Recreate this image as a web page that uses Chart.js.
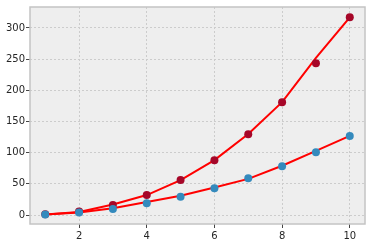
<!DOCTYPE html>
<html>
<head>
<meta charset="utf-8">
<script src="https://cdn.jsdelivr.net/npm/chart.js@4/dist/chart.umd.min.js"></script>
<style>
    body { margin: 0; background: #ffffff; }
    canvas { display: block; }
</style>
</head>
<body>
<canvas id="chart" width="371" height="245"></canvas>
<script>
// values
var xValues = [1, 2, 3, 4, 5, 6, 7, 8, 9, 10];
var bluePoints = [1, 4, 9.6, 18.7, 29.5, 42.8, 58.9, 78.1, 100.6, 126.8];
var redPoints = [1.1, 5.5, 16, 32, 56, 88, 129.5, 181, 243.5, 317];
var blueLine = [1, 4, 11, 21, 31, 44, 58, 79, 103, 127];
var redLine = [1, 5, 17, 32, 56, 88, 130, 181, 252, 317];
var xTicks = [2, 4, 6, 8, 10];
var yTicks = [0, 50, 100, 150, 200, 250, 300];

function toXY(ys) {
    return xValues.map(function (x, i) {
        return { x: x, y: ys[i] };
    });
}

var frame = {
    id: 'frame',
    beforeDraw: function (chart) {
        var ctx = chart.ctx, a = chart.chartArea;
        ctx.save();
        ctx.fillStyle = '#ffffff';
        ctx.fillRect(0, 0, chart.width, chart.height);
        ctx.fillStyle = '#eeeeee';
        ctx.fillRect(a.left, a.top, a.right - a.left, a.bottom - a.top);
        ctx.restore();
    },
    afterDatasetsDraw: function (chart) {
        var ctx = chart.ctx, a = chart.chartArea;
        ctx.save();
        ctx.strokeStyle = '#c4c4c4';
        ctx.lineWidth = 1.5;
        ctx.strokeRect(a.left, a.top, a.right - a.left, a.bottom - a.top);
        ctx.restore();
    }
};

var tickFont = { family: 'DejaVu Sans', size: 10 };

new Chart(document.getElementById('chart').getContext('2d'), {
    type: 'scatter',
    plugins: [frame],
    data: {
        datasets: [
            {
                data: toXY(bluePoints),
                backgroundColor: '#348ABD',
                borderColor: '#348ABD',
                pointRadius: 4,
                borderWidth: 0
            },
            {
                data: toXY(redPoints),
                backgroundColor: '#A60628',
                borderColor: '#A60628',
                pointRadius: 4,
                borderWidth: 0
            },
            {
                data: toXY(blueLine),
                showLine: true,
                borderColor: '#ff0000',
                borderWidth: 2,
                pointRadius: 0,
                tension: 0
            },
            {
                data: toXY(redLine),
                showLine: true,
                borderColor: '#ff0000',
                borderWidth: 2,
                pointRadius: 0,
                tension: 0
            }
        ]
    },
    options: {
        responsive: false,
        animation: false,
        layout: {
            padding: { top: 7, right: 6, bottom: 0, left: 0 }
        },
        scales: {
            x: {
                type: 'linear',
                min: 0.55,
                max: 10.45,
                afterBuildTicks: function (scale) {
                    scale.ticks = xTicks.map(function (v) { return { value: v }; });
                },
                afterFit: function (scale) {
                    scale.height = 21;
                },
                grid: {
                    color: '#cccccc',
                    lineWidth: 1,
                    drawTicks: true,
                    tickLength: 4,
                    tickColor: '#444444',
                    tickWidth: 1
                },
                border: { display: false, dash: [2, 2] },
                ticks: {
                    color: '#262626',
                    font: tickFont,
                    padding: 2,
                    maxRotation: 0
                }
            },
            y: {
                min: -14.4,
                max: 333.6,
                afterBuildTicks: function (scale) {
                    scale.ticks = yTicks.map(function (v) { return { value: v }; });
                },
                afterFit: function (scale) {
                    scale.width = 30;
                },
                grid: {
                    color: '#cccccc',
                    lineWidth: 1,
                    drawTicks: true,
                    tickLength: 4,
                    tickColor: '#444444',
                    tickWidth: 1
                },
                border: { display: false, dash: [2, 2] },
                ticks: {
                    color: '#262626',
                    font: tickFont,
                    padding: 1
                }
            }
        },
        plugins: {
            legend: { display: false },
            tooltip: { enabled: false }
        }
    }
});
</script>
</body>
</html>
